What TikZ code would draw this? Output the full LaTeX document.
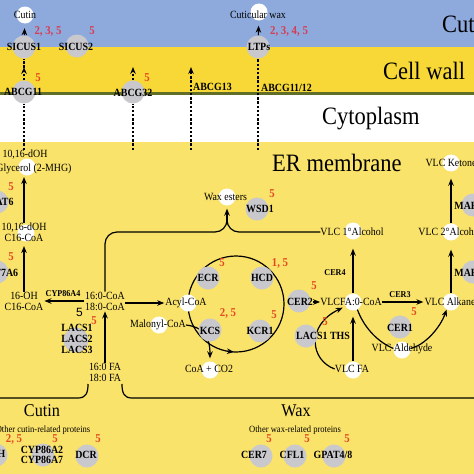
\documentclass[tikz,border=0pt]{standalone}
\usepackage{fontspec}
\setmainfont{Liberation Serif}[FakeStretch=0.9]
\newfontfamily\sansf{Liberation Sans}
\usetikzlibrary{arrows.meta}
\newcommand{\myfs}[1]{\fontsize{#1}{#1}\selectfont}
\definecolor{cutblue}{RGB}{142,170,221}
\definecolor{wallyel}{RGB}{247,216,54}
\definecolor{eryel}{RGB}{250,227,106}
\definecolor{wallgreen}{RGB}{96,110,40}
\definecolor{enzgray}{RGB}{201,201,205}
\definecolor{numred}{RGB}{228,72,36}
\definecolor{numpink}{RGB}{214,60,82}
\pgfdeclarelayer{bg}
\pgfdeclarelayer{lines}
\pgfsetlayers{bg,lines,main}
\tikzset{
  ln/.style={line width=1.2pt, black},
  arr/.style={-{Stealth[length=7pt,width=5.5pt]}},
  flow/.style={ln, arr},
  dflow/.style={line width=1.2pt, black, dash pattern=on 2.4pt off 1.8pt},
  enz/.style={circle, fill=enzgray, minimum size=23pt, inner sep=0pt},
  wdot/.style={circle, fill=white, minimum size=17pt, inner sep=0pt},
  enzt/.style={inner sep=0pt, font=\bfseries\myfs{11}, align=center},
  met/.style={inner sep=0pt, font=\myfs{11}, align=center},
  lab/.style={inner sep=0pt, font=\bfseries\myfs{9}},
  num/.style={inner sep=0pt, font=\bfseries\myfs{12}, text=numred},
  nump/.style={num, text=numpink},
  bigl/.style={inner sep=0pt, font=\myfs{25}, anchor=base west},
  midl/.style={inner sep=0pt, font=\myfs{18}},
  smallt/.style={inner sep=0pt, font=\myfs{9.5}},
}
\begin{document}
\begin{tikzpicture}[x=1pt,y=-1pt]
\useasboundingbox (0,0) rectangle (474,474);
\begin{pgfonlayer}{bg}
\fill[cutblue] (0,0) rectangle (474,46.5);
\fill[wallyel] (0,46.5) rectangle (474,92);
\fill[wallgreen] (0,92) rectangle (474,94.5);
\fill[white] (0,94.5) rectangle (474,142);
\fill[eryel] (0,142) rectangle (474,474);
\end{pgfonlayer}

% region labels
\node[bigl] (lcut) at (442,32) {Cuticle};
\node[bigl] (lwall) at (383,79) {Cell wall};
\node[bigl] (lcyto) at (322,124) {Cytoplasm};
\node[bigl] (ler) at (272,171) {ER membrane};

% ---- top: cuticle / cell wall
\node[wdot] (cutin) at (25,15) {};
\node[met] (cutinT) at (25,15) {Cutin};
\node[wdot] (cwax) at (259,12) {};
\node[met] (cwaxT) at (258,15) {Cuticular wax};
\node[enz] (sicus1) at (24,47) {};
\node[enzt] (sicus1T) at (24,47) {SICUS1};
\node[enz] (sicus2) at (77,46) {};
\node[enzt] (sicus2T) at (76,47) {SICUS2};
\node[enz] (ltps) at (258,47) {};
\node[enzt] (ltpsT) at (259,47) {LTPs};
\node[enz] (abcg11) at (24,92) {};
\node[enzt] (abcg11T) at (23,92) {ABCG11};
\node[enz] (abcg32) at (133,92) {};
\node[enzt] (abcg32T) at (133,93) {ABCG32};
\node[enzt, anchor=west] (abcg13T) at (193,87) {ABCG13};
\node[enzt, anchor=west] (abcg1112T) at (261,88) {ABCG11/12};
\node[nump] (n1) at (48,31) {2, 3, 5};
\node[nump] (n2) at (92,31) {5};
\node[nump] (n3) at (289,31) {2, 3, 4, 5};
\node[num] (n4) at (38,78) {5};
\node[num] (n5) at (147,78) {5};
\coordinate (t11) at (24,67);
\coordinate (t32) at (133,67);
\coordinate (t13) at (191,67);
\coordinate (s11) at (24,150);
\coordinate (s32) at (133,150);
\coordinate (s13) at (191,150);
\coordinate (s1112) at (258,150);

% ---- ER left column (cutin)
\node[wdot] (glyc) at (27,167) {};
\node[met] (glycT1) at (25,155) {10,16-dOH};
\node[met] (glycT2) at (34,169) {Glycerol (2-MHG)};
\node[num] (n6) at (11,187) {5};
\node[enz] (gpat6) at (-3,202) {};
\node[enzt] (gpat6T) at (-2,202) {GPAT6};
\node[wdot] (dohc) at (26,233) {};
\node[met] (dohcT) at (24,232.5) {10,16-dOH\\C16-CoA};
\node[num] (n7) at (11,257) {5};
\node[enz] (cyp77) at (-3,272) {};
\node[enzt] (cyp77T) at (-3,273) {CYP77A6};
\node[met] (ohc) at (24,301) {16-OH\\C16-CoA};
\node[lab] (cyp86a4) at (63,294) {CYP86A4};
\node[met] (coa16) at (105,301) {16:0-CoA\\18:0-CoA};
\node[inner sep=0pt, font=\sansf\myfs{12}] (nb) at (79.5,312.5) {5};
\node[num] (n8) at (94,321) {5};
\node[enz, minimum size=25pt] (lacs) at (76,340) {};
\node[enzt] (lacsT) at (77,339) {LACS1\\LACS2\\LACS3};
\node[met] (fa16) at (105,372) {16:0 FA\\18:0 FA};
\coordinate (tglyc) at (24,177);
\coordinate (tdoh) at (24,246);

% ---- wax esters
\node[wdot] (wax) at (227,197) {};
\node[met] (waxT) at (225.5,197) {Wax esters};
\node[enz] (wsd1) at (257,209) {};
\node[enzt] (wsd1T) at (260,209) {WSD1};
\node[num] (n9) at (272,194) {5};
\coordinate (wxm) at (227,221);

% ---- elongation cycle
\node[circle, draw, line width=1.2pt, minimum size=96pt, inner sep=0pt] (cyc) at (236,304) {};
\node[wdot] (acyl) at (188,303) {};
\node[met] (acylT) at (186,303) {Acyl-CoA};
\node[enz] (ecr) at (208,278) {};
\node[enzt] (ecrT) at (208,278) {ECR};
\node[enz] (hcd) at (262,278) {};
\node[enzt] (hcdT) at (262,278) {HCD};
\node[enz] (kcs) at (210,330) {};
\node[enzt] (kcsT) at (210,331) {KCS};
\node[enz] (kcr1) at (260,331) {};
\node[enzt] (kcr1T) at (260,331) {KCR1};
\node[num] (n10) at (222,263) {5};
\node[num] (n11) at (280,263) {1, 5};
\node[num] (n12) at (228,313) {2, 5};
\node[num] (n13) at (274,315) {5};
\node[wdot] (malo) at (159,325) {};
\node[met] (maloT) at (158,325) {Malonyl-CoA};
\node[wdot] (coaco2) at (210,370) {};
\node[met] (coaco2T) at (209,369) {CoA + CO2};
\coordinate (cyca) at (227,351.2);
\coordinate (cycb) at (234,352);

% ---- wax branch
\node[enz] (cer2) at (299,301) {};
\node[enzt] (cer2T) at (300,302) {CER2};
\node[num] (n14) at (314,286) {5};
\node[wdot] (vlcfa) at (353,302) {};
\node[met] (vlcfaT) at (351,302) {VLCFA:0-CoA};
\node[wdot] (vlc1) at (353,231) {};
\node[met] (vlc1T) at (352,232) {VLC 1°Alcohol};
\node[lab] (cer4) at (335,273) {CER4};
\node[wdot] (vfa) at (353,370) {};
\node[met] (vfaT) at (352,369) {VLC FA};
\node[enz] (lacs1) at (306,336) {};
\node[enzt] (lacs1T) at (323,336) {LACS1 THS};
\node[num] (n15) at (325,322) {5};
\node[wdot] (vald) at (402,350) {};
\node[met] (valdT) at (402,349) {VLC Aldehyde};
\node[enz] (cer1) at (400,327) {};
\node[enzt] (cer1T) at (400,328) {CER1};
\node[num] (n16) at (414,312) {5};
\node[wdot] (valk) at (451,302) {};
\node[met] (valkT) at (450,302) {VLC Alkane};
\node[lab] (cer3) at (400,295) {CER3};
\node[wdot] (v2alc) at (451,232) {};
\node[met] (v2alcT) at (450,232) {VLC 2°Alcohol};
\node[wdot] (vket) at (451,163) {};
\node[met] (vketT) at (451,163) {VLC Ketone};
\node[enz] (mah1a) at (473,205) {};
\node[enzt] (mah1aT) at (469,206) {MAH1};
\node[enz] (mah1b) at (473,272) {};
\node[enzt] (mah1bT) at (469,273) {MAH1};

% ---- bottom
\node[midl] (cutinL) at (42,411) {Cutin};
\node[midl] (waxL) at (296,411) {Wax};
\node[smallt] (ocut) at (43,430) {Other cutin-related proteins};
\node[smallt] (owax) at (295,430) {Other wax-related proteins};
\node[enz] (fdh) at (-4,455) {};
\node[enzt] (fdhT) at (-5,454) {FDH};
\node[num] (n17) at (14,439) {2, 5};
\node[num] (n18) at (55,439) {5};
\node[num] (n19) at (98,439) {5};
\node[enz] (cyp86) at (43,455) {};
\node[enzt, font=\bfseries\fontsize{11}{10}\selectfont] (cyp86T) at (42,455) {CYP86A2\\CYP86A7};
\node[enz] (dcr) at (87,456) {};
\node[enzt] (dcrT) at (86,455) {DCR};
\node[enz] (cer7) at (261,456) {};
\node[enzt] (cer7T) at (254,455) {CER7};
\node[enz] (cfl1) at (295,456) {};
\node[enzt] (cfl1T) at (292,455) {CFL1};
\node[enz] (gpat48) at (334,456) {};
\node[enzt] (gpat48T) at (333,455) {GPAT4/8};
\node[num] (n20) at (269,439) {5};
\node[num] (n21) at (307,439) {5};
\node[num] (n22) at (347,439) {5};
\coordinate (bk1) at (0,398);
\coordinate (bk2) at (88,384);
\coordinate (bk3) at (122,384);
\coordinate (bk4) at (474,398);

\begin{pgfonlayer}{lines}
% top transport
\draw[flow, shorten >=4.5pt] (sicus1) -- (cutin);
\draw[flow, shorten >=5pt] (ltps) -- (cwax);
\draw[dflow] (abcg11) -- (sicus1);
\draw[dflow, arr] (abcg11) -- (t11);
\draw[dflow, arr] (abcg32) -- (t32);
\draw[dflow, arr] (s13) -- (t13);
\draw[dflow] (s11) -- (abcg11);
\draw[dflow] (s32) -- (abcg32);
\draw[dflow] (s1112) -- (ltps);
% cutin column
\draw[flow] (dohcT.north) -- (tglyc);
\draw[flow] (ohc.north) -- (tdoh);
\draw[flow, shorten <=1pt, shorten >=1pt] (coa16.west) -- (ohc.east);
\draw[flow, shorten >=1pt] (fa16.north) -- (coa16.south);
% wax ester merge
\draw[ln, rounded corners=12pt] (coa16.north) -- (105,232) -- (227,232) -- (wxm);
\draw[ln, rounded corners=12pt] (vlc1T.west) -- (227,232) -- (wxm);
\draw[flow, shorten >=3pt] (wxm) -- (wax);
% cycle
\draw[flow] (cyca) -- (cycb);
\draw[flow, shorten >=1pt] (coa16.east |- acylT.west) -- (acylT.west);
\draw[flow, shorten >=3pt] (maloT.east) .. controls (203,327) and (210,336) .. (coaco2.north);
\draw[flow] (cer2T.east) -- (vlcfaT.west);
% wax branch
\draw[flow, shorten >=9pt] (vlcfa.north) -- (vlc1.south);
\draw[flow, shorten >=6pt] (vfa.north) -- (vlcfa.south);
\draw[flow, shorten >=3pt] (vfaT.west) .. controls (310,360) and (306,325) .. (vlcfa.210);
\draw[ln] (vlcfa.300) .. controls (365,330) and (380,343) .. (vald.170);
\draw[flow] (vald.10) .. controls (425,345) and (440,328) .. (valk.240);
\draw[flow, shorten >=1pt] (vlcfaT.east) -- (valkT.west);
\draw[flow, shorten >=9pt] (valk.north) -- (v2alc.south);
\draw[flow, shorten >=7pt] (v2alc.north) -- (vket.south);
% brackets
\draw[ln] (bk1) -- (78,398) .. controls (86,398) and (88,393) .. (bk2);
\draw[ln] (bk3) .. controls (122,393) and (124,398) .. (132,398) -- (bk4);
\end{pgfonlayer}
\end{tikzpicture}
\end{document}
